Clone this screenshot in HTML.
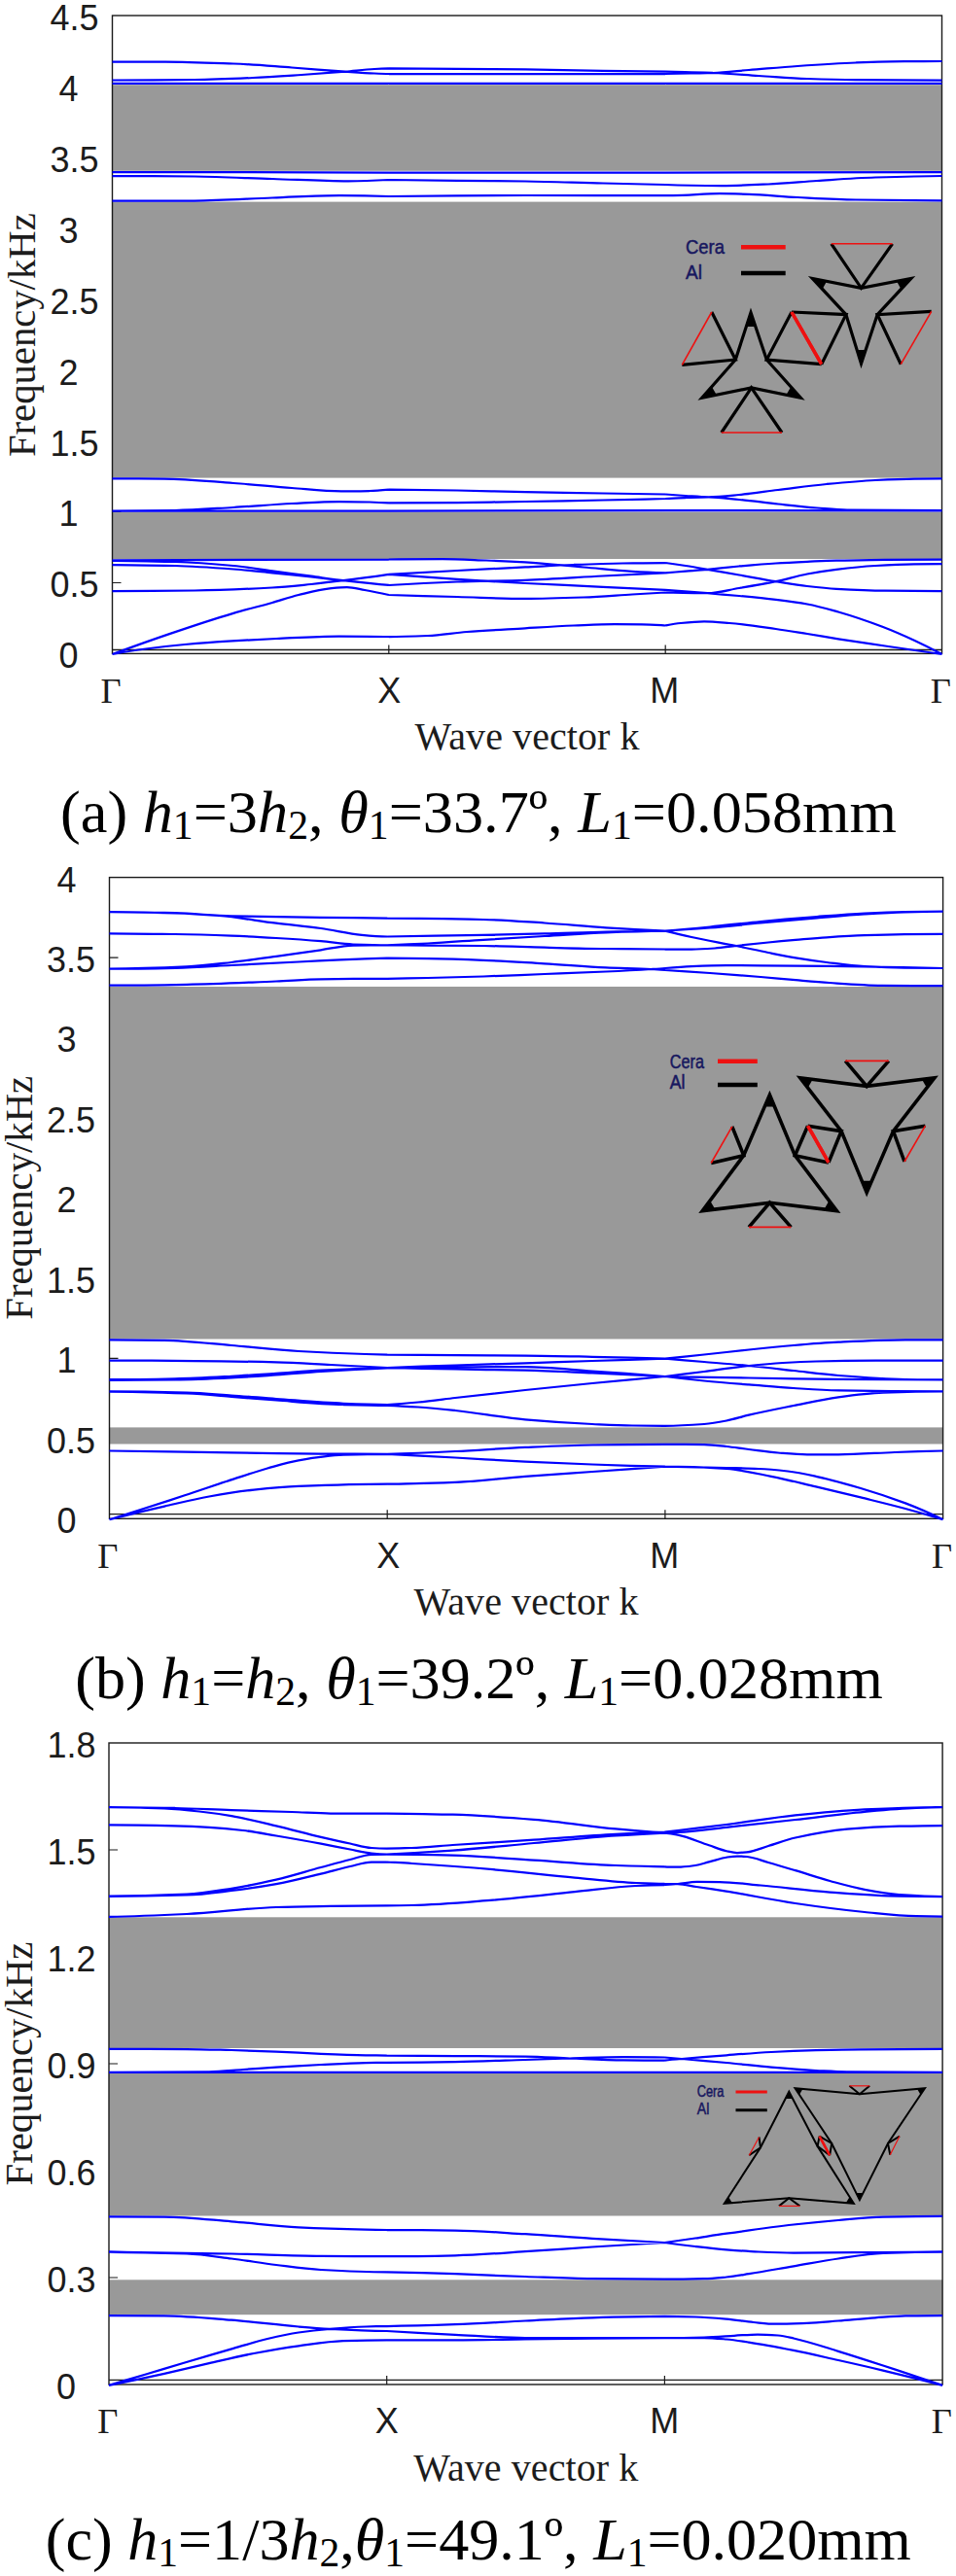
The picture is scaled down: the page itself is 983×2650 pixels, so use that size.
<!DOCTYPE html>
<html lang="en"><head><meta charset="utf-8"><title>Band structures</title>
<style>
html,body{margin:0;padding:0;background:#fff}
svg{display:block}
.ss{font-family:"Liberation Sans",sans-serif}
.sf{font-family:"Liberation Serif",serif}
.b{fill:none;stroke:#0000ff;stroke-width:2.25;stroke-linecap:butt;stroke-linejoin:round}
.k{fill:none;stroke:#000;stroke-linejoin:miter}
.r{fill:none;stroke:#ee1111}
</style></head><body>
<svg width="983" height="2650" viewBox="0 0 983 2650">
<rect width="983" height="2650" fill="#fff"/>
<g>
<path d="M115.5 599.5h9M115.5 526.5h9M115.5 453.6h9M115.5 380.7h9M115.5 307.7h9M115.5 234.8h9M115.5 161.9h9M115.5 88.9h9" stroke="#1a1a1a" stroke-width="1.2" fill="none"/>
<rect x="115.5" y="87.2" width="853" height="88.6" fill="#999"/>
<rect x="115.5" y="207.6" width="853" height="284" fill="#999"/>
<rect x="115.5" y="526.6" width="853" height="48.4" fill="#999"/>
<rect x="115.5" y="16" width="853" height="656.4" fill="none" stroke="#1a1a1a" stroke-width="1.4"/>
<path d="M115.5 668.5H968.5" stroke="#1a1a1a" stroke-width="1.3" fill="none"/>
<path class="b" d="M115.5 63.5C133.7 63.5 151.8 63.5 170 63.5C193.3 63.5 216.7 64.6 240 65.5C260 66.3 280 68.1 300 69.5C318.3 70.8 336.7 72.4 355 73.6C365 74.3 375 75.1 385 75.5C389.9 75.7 394.9 75.9 399.8 76M115.5 82.5C143.7 82.5 171.8 82.3 200 82C220 81.8 240 80.9 260 80C276.7 79.3 293.3 78.1 310 77C325 76 340 74.8 355 73.6C365 72.8 375 71.5 385 71C389.9 70.7 394.9 70.5 399.8 70.4M115.5 85.9L399.8 85.9M115.5 177L399.8 177.5M115.5 181C143.7 181 171.8 181.2 200 181.5C226.7 181.8 253.3 183.2 280 184C306 184.8 332 186.4 358 186.4C371.9 186.4 385.9 185.8 399.8 185M115.5 206.7C143.7 206.7 171.8 206.6 200 206.5C226.7 206.4 253.3 204.5 280 203.5C303 202.7 326 201 349 201C365.9 201 382.9 201.3 399.8 202M115.5 492.3C133.3 492.3 151.2 492.4 169 492.5C192.7 492.7 216.3 495.3 240 497C260 498.4 280 500.5 300 502C317 503.3 334 505.4 351 505.4C360.7 505.4 370.3 505.2 380 505C386.6 504.8 393.2 504.2 399.8 503.6M115.5 525.5C137 525.5 158.5 525.3 180 525C200 524.7 220 523.1 240 522C260 520.9 280 519 300 518C316.2 517.2 332.3 516 348.5 516C359 516 369.5 516.2 380 516.5C386.6 516.7 393.2 517 399.8 517.4M115.5 525.7L399.8 525.5M115.5 576.3L399.8 575.5M115.5 576.8C137 576.8 158.5 577.4 180 578C200 578.6 220 580.2 240 582C253.3 583.2 266.7 585.5 280 587.3C293.3 589.1 306.7 590.9 320 592.7C331 594.2 342 595.9 353 597.2C368.6 599 384.2 600.7 399.8 601.9M115.5 581C137 581 158.5 581.5 180 582C200 582.5 220 584 240 585.5C253.3 586.5 266.7 588 280 589.3C293.3 590.6 306.7 592.1 320 593.5C331 594.7 342 596 353 597.2C368.6 598.9 384.2 600.5 399.8 602M115.5 608C143.7 608 171.8 607.8 200 607.5C226.7 607.2 253.3 606 280 604.5C293.3 603.8 306.7 602.3 320 601C331 599.9 342 598.6 353 597.2C368.6 595.3 384.2 593.1 399.8 590.8M115.5 673C135.6 665.6 155.6 658.4 175.7 651.6C197.1 644.3 218.6 637.1 240 630.8C253.3 626.9 266.7 623.8 280 620C289 617.4 298 614.2 307 612C317.7 609.4 328.3 606.4 339 605.3C344.9 604.7 350.9 604 356.8 604C362.9 604 368.9 605.9 375 607C383.3 608.5 391.5 610.2 399.8 612M115.5 673C127 670.9 138.5 669 150 667.5C163.3 665.7 176.7 664.2 190 663C203.3 661.8 216.7 660.6 230 659.8C248 658.7 266 657.8 284 657C305.5 656 327 654.5 348.5 654.5C365.6 654.5 382.7 654.5 399.8 655M399.8 76C446.5 76 493.3 76 540 76C588.1 76 636.1 76 684.2 76M399.8 70.4C423.2 70.5 446.6 70.7 470 70.8C493.3 70.9 516.7 71.1 540 71.3C566.7 71.6 593.3 72.4 620 72.8C641.4 73.1 662.8 73.4 684.2 73.6M399.8 85.9L684.2 85.9M399.8 177.5L684.2 177.5M399.8 185C423.2 185.3 446.6 185.6 470 185.8C493.3 186 516.7 186.2 540 186.5C566.7 186.9 593.3 187.9 620 188.5C641.4 189 662.8 189.5 684.2 190M399.8 202C446.5 201.5 493.3 201 540 201C588.1 201 636.1 201 684.2 201M399.8 503.6C423.2 503.8 446.6 504.1 470 504.5C493.3 504.9 516.7 505.7 540 506.2C566.7 506.7 593.3 507.1 620 507.5C641.4 507.8 662.8 508.2 684.2 508.5M399.8 517.4C423.2 517.4 446.6 517.2 470 517C493.3 516.8 516.7 516.4 540 516C566.7 515.6 593.3 515.1 620 514.5C641.4 514.1 662.8 513.5 684.2 513M399.8 525.5L684.2 525M399.8 575.5C418.2 575.2 436.6 575.2 455 575.2C470 575.2 485 576 500 576.5C513.3 577 526.7 577.6 540 578.4C560 579.6 580 581.8 600 583.5C616.7 584.9 633.3 586.8 650 587.8C661.4 588.5 672.8 589 684.2 589.4M399.8 590.8C423.2 589.5 446.6 588.2 470 587C493.3 585.8 516.7 584.6 540 583.4C556.7 582.6 573.3 581.6 590 581C606.7 580.4 623.3 579.8 640 579.5C654.7 579.3 669.5 579 684.2 579M399.8 590.8C423.2 592.6 446.6 594.3 470 595.8C493.3 597.3 516.7 598.8 540 600C566.7 601.4 593.3 602.5 620 603.8C641.4 604.8 662.8 605.8 684.2 606.8M399.8 602C423.2 600.5 446.6 599.3 470 598.5C493.3 597.7 516.7 597.6 540 596.8C566.7 595.9 593.3 593.9 620 592.5C641.4 591.4 662.8 590.4 684.2 589.4M399.8 612C423.2 612.7 446.6 613.3 470 614C493.3 614.6 516.7 615.9 540 615.9C560 615.9 580 615.2 600 614.5C616.7 613.9 633.3 612.5 650 611.5C661.4 610.8 672.8 610.2 684.2 609.5M399.8 655C413.2 655 426.6 654.5 440 654C453.3 653.5 466.7 651 480 650C500 648.4 520 647.5 540 646.3C556.7 645.3 573.3 644.2 590 643.5C604 642.9 618 642 632 642C641.3 642 650.7 642.1 660 642.3C668.1 642.4 676.1 643 684.2 643.5M684.2 76C692.8 75.8 701.4 75.7 710 75.5C717.7 75.3 725.3 75.3 733 75C745.3 74.6 757.7 73 770 72C786.7 70.7 803.3 69.1 820 68C840 66.6 860 65.2 880 64.5C896.7 63.9 913.3 63.3 930 63.2C942.8 63.1 955.7 63 968.5 63M684.2 73.6C700.5 73.8 716.7 74.4 733 75C748.7 75.6 764.3 77 780 78C796.7 79 813.3 80.4 830 81C846.7 81.6 863.3 82.1 880 82.2C909.5 82.4 939 82.6 968.5 82.6M684.2 85.9L968.5 85.9M684.2 177.5L968.5 177M684.2 190C703.5 190.8 722.7 191 742 191C758 191 774 190.2 790 189.5C806.7 188.8 823.3 187.1 840 186C860 184.7 880 183.1 900 182.5C922.8 181.8 945.7 181.1 968.5 181M684.2 201C686.8 201 689.4 201 692 201C708 201 724 199.2 740 199.2C750 199.2 760 199.5 770 199.8C786.7 200.3 803.3 202.2 820 203C840 204 860 205.2 880 205.5C909.5 206 939 206.3 968.5 206.3M684.2 508.5C691.1 509.1 698.1 509.6 705 510C712.9 510.5 720.8 511.3 728.7 511.3C739.1 511.3 749.6 510 760 509C773.3 507.8 786.7 505.6 800 504C816.7 502 833.3 499.6 850 498C866.7 496.4 883.3 494.8 900 494C913.3 493.4 926.7 492.8 940 492.6C949.5 492.5 959 492.4 968.5 492.4M684.2 513C691.1 512.6 698.1 512.3 705 512C712.9 511.7 720.8 511.3 728.7 511.3C739.1 511.3 749.6 513 760 514C773.3 515.3 786.7 517.1 800 518.5C813.3 519.9 826.7 521.4 840 522.5C850.3 523.3 860.7 524.5 871 524.6C903.5 524.9 936 525 968.5 525M684.2 525L968.5 525.3M684.2 579C691.1 579.9 698.1 580.9 705 582C712.5 583.2 719.9 584.5 727.4 585.8C738.3 587.7 749.1 589.6 760 591.5C772.6 593.7 785.1 596.2 797.7 598.2C808.5 599.9 819.2 601.8 830 603C840 604.1 850 605.2 860 605.8C876.7 606.7 893.3 607.5 910 607.7C929.5 607.9 949 608 968.5 608M684.2 589.4C691.1 588.8 698.1 588.2 705 587.6C712.5 587 719.9 586.5 727.4 585.8C738.3 584.8 749.1 583.5 760 582.5C772.6 581.4 785.1 580.3 797.7 579.5C808.5 578.8 819.2 578.3 830 577.8C840 577.4 850 576.9 860 576.7C876.7 576.3 893.3 575.9 910 575.8C929.5 575.6 949 575.5 968.5 575.5M684.2 606.8C698.6 607.9 713 609 727.4 610.2C738.3 611.1 749.1 612 760 613C772.6 614.2 785.1 615.4 797.7 616.9C808.5 618.2 819.2 619.5 830 621.5C840.7 623.4 851.3 626.5 862 629.5C877.3 633.9 892.7 639.2 908 645C918.7 649.1 929.3 653.8 940 658.7C949.5 663.1 959 667.9 968.5 673M684.2 609.5C698.6 610.2 713 610.2 727.4 610.2C738.3 610.2 749.1 606.8 760 605C772.6 602.9 785.1 600.8 797.7 598.2C808.5 596 819.2 592.5 830 590.5C840 588.6 850 587 860 585.8C873.3 584.2 886.7 582.8 900 582C913.3 581.2 926.7 580.5 940 580.3C949.5 580.1 959 580 968.5 580M684.2 643.5C689.5 642.5 694.7 641.5 700 641C708 640.2 716 639.4 724 639.4C732.7 639.4 741.3 640.3 750 641C765.9 642.3 781.8 644.8 797.7 647C808.5 648.5 819.2 650.3 830 652C840.7 653.7 851.3 655.6 862 657.3C878 659.8 894 662.1 910 664.5C929.5 667.4 949 670.2 968.5 673"/>
<path d="M399.8 672.4v-9M684.2 672.4v-9" stroke="#1a1a1a" stroke-width="1.2" fill="none"/>
<text class="ss" x="70.5" y="687.3" font-size="36" text-anchor="middle" fill="#1c1c1c">0</text>
<text class="ss" x="76.5" y="614.4" font-size="36" text-anchor="middle" fill="#1c1c1c">0.5</text>
<text class="ss" x="70.5" y="541.4" font-size="36" text-anchor="middle" fill="#1c1c1c">1</text>
<text class="ss" x="76.5" y="468.5" font-size="36" text-anchor="middle" fill="#1c1c1c">1.5</text>
<text class="ss" x="70.5" y="395.6" font-size="36" text-anchor="middle" fill="#1c1c1c">2</text>
<text class="ss" x="76.5" y="322.6" font-size="36" text-anchor="middle" fill="#1c1c1c">2.5</text>
<text class="ss" x="70.5" y="249.7" font-size="36" text-anchor="middle" fill="#1c1c1c">3</text>
<text class="ss" x="76.5" y="176.8" font-size="36" text-anchor="middle" fill="#1c1c1c">3.5</text>
<text class="ss" x="70.5" y="103.8" font-size="36" text-anchor="middle" fill="#1c1c1c">4</text>
<text class="ss" x="76.5" y="30.9" font-size="36" text-anchor="middle" fill="#1c1c1c">4.5</text>
</g>
<g>
<path d="M112.5 1479.8h9M112.5 1397.4h9M112.5 1314.9h9M112.5 1232.5h9M112.5 1150h9M112.5 1067.5h9M112.5 985.1h9" stroke="#1a1a1a" stroke-width="1.2" fill="none"/>
<rect x="112.5" y="1015" width="857.1" height="362.5" fill="#999"/>
<rect x="112.5" y="1468.4" width="857.1" height="17.1" fill="#999"/>
<rect x="112.5" y="902.6" width="857.1" height="659.7" fill="none" stroke="#1a1a1a" stroke-width="1.4"/>
<path d="M112.5 1557.7H969.6" stroke="#1a1a1a" stroke-width="1.3" fill="none"/>
<path class="b" d="M112.5 938.2C135 938.2 157.5 938.7 180 939.2C199.3 939.7 218.7 941.8 238 942.3C258.7 942.8 279.3 943 300 943.3C310 943.5 320 943.7 330 943.8C352.7 944.1 375.5 944.4 398.2 944.6M112.5 938.2C135 938.2 157.5 938.8 180 939.4C195 939.8 210 940.8 225 942C244.7 943.5 264.3 947.3 284 949.7C299.3 951.6 314.7 952.9 330 955C344 956.9 358 960.5 372 961.8C380.7 962.6 389.5 963.3 398.2 963.5M112.5 960.3C135 960.3 157.5 960.7 180 961C199.3 961.3 218.7 961.9 238 962.6C253.3 963.2 268.7 964.1 284 965C299.3 965.9 314.7 966.9 330 968.2C341 969.1 352 971.1 363 971.5C374.7 971.9 386.5 972.3 398.2 972.3M112.5 996.5C139 996.5 165.5 995.6 192 994.4C207.3 993.7 222.7 991.7 238 990C253.3 988.3 268.7 985.9 284 983.8C299.3 981.7 314.7 979.5 330 977.3C341 975.7 352 972.8 363 972.6C374.7 972.4 386.5 972.3 398.2 972.3M112.5 996.7C135 996.7 157.5 996.3 180 995.8C199.3 995.4 218.7 994 238 993C261 991.9 284 990.7 307 989.5C321.3 988.8 335.7 987.9 350 987.3C366.1 986.7 382.1 986.1 398.2 985.7M112.5 1013.7C139 1013.7 165.5 1013.3 192 1012.8C222.7 1012.3 253.3 1010.7 284 1009.5C299.3 1008.9 314.7 1007.6 330 1007.4C352.7 1007 375.5 1006.8 398.2 1006.8M398.2 944.6C431.1 944.6 464.1 945.2 497 946C518 946.5 539 948.2 560 949.5C581 950.8 602 953 623 954.3C643.3 955.6 663.6 956.7 683.9 957.6M398.2 963.5C431.1 963 464.1 962.4 497 961.8C518 961.4 539 960.9 560 960.4C581 959.9 602 958.9 623 958.5C643.3 958.1 663.6 957.7 683.9 957.6M398.2 972.3C412.1 971.8 426.1 971.2 440 970.5C459 969.5 478 968 497 966.8C518 965.5 539 964.2 560 963C581 961.8 602 960.1 623 959.3C643.3 958.5 663.6 957.9 683.9 957.6M398.2 972.3C412.1 972.3 426.1 972.4 440 972.5C459 972.6 478 972.8 497 973C518 973.3 539 974.2 560 974.7C581 975.2 602 975.8 623 976C643.3 976.2 663.6 976.5 683.9 976.5M398.2 985.7C412.1 985.8 426.1 986 440 986.2C459 986.5 478 987.1 497 987.8C518 988.6 539 990.1 560 991.3C581 992.5 602 994.3 623 995.3C638.7 996 654.3 996.2 670 997C674.6 997.2 679.3 997.6 683.9 998M398.2 1006.8C412.1 1006.6 426.1 1006.3 440 1006C459 1005.6 478 1005.1 497 1004.5C518 1003.8 539 1002.8 560 1002C581 1001.2 602 1000.5 623 999.5C638.7 998.8 654.3 998 670 997C674.6 996.7 679.3 996.4 683.9 996M683.9 957.6C699.3 956.4 714.6 955 730 953.5C747.3 951.8 764.7 949.6 782 948C801.3 946.2 820.7 944.5 840 943C856.3 941.7 872.7 940.3 889 939.5C902.7 938.8 916.3 938.2 930 938C943.2 937.8 956.4 937.7 969.6 937.7M683.9 957.6C699.3 956.8 714.6 955.7 730 954.5C747.3 953.1 764.7 951.1 782 949.5C801.3 947.7 820.7 946.1 840 944.5C856.3 943.1 872.7 941.5 889 940.5C902.7 939.7 916.3 938.9 930 938.5C943.2 938.1 956.4 937.8 969.6 937.7M683.9 957.6C692.9 959.9 702 962.1 711 964C726.3 967.3 741.7 969.9 757 973C768 975.2 779 977.8 790 980C799.3 981.9 808.7 983.9 818 985.4C828.7 987.2 839.3 988.7 850 990C863 991.6 876 993.5 889 994.2C902.7 994.9 916.3 995.5 930 995.7C943.2 995.9 956.4 996 969.6 996M683.9 976.5C692.9 976.5 702 976.5 711 976.5C719 976.5 727 976 735 975.5C742.3 975 749.7 973.8 757 973C768 971.8 779 970.6 790 969.5C799.3 968.6 808.7 967.7 818 966.9C828.7 966 839.3 965 850 964.3C863 963.5 876 962.7 889 962.2C902.7 961.7 916.3 961.3 930 961.1C943.2 960.9 956.4 960.8 969.6 960.8M683.9 996C692.9 995.3 702 994.6 711 994.2C722.9 993.7 734.8 993.2 746.7 993.2C770.5 993.2 794.2 993.3 818 993.5C841.7 993.7 865.3 994.1 889 994.5C915.9 994.9 942.7 995.4 969.6 996M683.9 998C699.3 998.9 714.6 999.9 730 1001C747.3 1002.2 764.7 1003.6 782 1005C794 1006 806 1007.2 818 1008.2C829.7 1009.2 841.3 1010.3 853 1011C871 1012.2 889 1013.6 907 1013.8C927.9 1014 948.7 1014.2 969.6 1014.2M112.5 1378.4C131.3 1378.4 150.2 1378.6 169 1378.8C192 1379.1 215 1382.1 238 1384C261 1385.9 284 1388.7 307 1390C330 1391.3 353 1392.3 376 1393C383.4 1393.2 390.8 1393.4 398.2 1393.6M112.5 1399.6C141.7 1399.6 170.8 1399.8 200 1400C228 1400.2 256 1400.7 284 1401.4C302.7 1401.9 321.3 1403.1 340 1404C359.4 1404.9 378.8 1405.9 398.2 1407M112.5 1419.2C135 1419.2 157.5 1418.8 180 1418.3C199.3 1417.9 218.7 1416.8 238 1415.8C253.3 1415 268.7 1413.8 284 1412.8C299.3 1411.8 314.7 1410.5 330 1409.7C352.7 1408.5 375.5 1407.5 398.2 1407M112.5 1419.8C135 1419.8 157.5 1419.6 180 1419.3C199.3 1419.1 218.7 1418.2 238 1417.3C253.3 1416.6 268.7 1415.5 284 1414.5C299.3 1413.5 314.7 1412 330 1411C352.7 1409.5 375.5 1408.2 398.2 1407.3M112.5 1431.3C139 1431.3 165.5 1431.9 192 1432.7C207.3 1433.1 222.7 1434.5 238 1435.5C253.3 1436.5 268.7 1437.9 284 1439C307 1440.7 330 1442.9 353 1443.8C368.1 1444.4 383.1 1444.9 398.2 1445M112.5 1431.5C139 1431.5 165.5 1432.5 192 1433.5C207.3 1434.1 222.7 1435.6 238 1436.8C253.3 1438 268.7 1439.4 284 1440.5C307 1442.2 330 1444.4 353 1445C368.1 1445.4 383.1 1445.8 398.2 1445.8M112.5 1492.5C154.3 1493.2 196.2 1493.8 238 1494.4C268.7 1494.8 299.3 1495.3 330 1495.5C352.7 1495.6 375.5 1495.8 398.2 1495.8M112.5 1563.2C125 1559.3 137.5 1555.3 150 1551.3C163.3 1547 176.7 1542.7 190 1538.3C206.7 1532.8 223.3 1527 240 1521.6C251.7 1517.8 263.3 1513.8 275 1510.5C285.7 1507.5 296.3 1504.1 307 1502.3C322.3 1499.7 337.7 1497.2 353 1496.7C368.1 1496.2 383.1 1495.8 398.2 1495.8M112.5 1563.2C131.3 1558.4 150.2 1553.9 169 1549.6C184.3 1546.1 199.7 1542.2 215 1539.5C230.3 1536.8 245.7 1534.2 261 1532.6C276.3 1531 291.7 1529.5 307 1528.9C337.4 1527.7 367.8 1526.6 398.2 1526.6M398.2 1393.6C421.5 1393.7 444.7 1393.9 468 1394C492 1394.2 516 1394.3 540 1394.5C563 1394.7 586 1395.3 609 1395.8C634 1396.3 658.9 1397 683.9 1397.7M398.2 1407C421.5 1407.6 444.7 1408.1 468 1408.5C492 1409 516 1409.1 540 1409.7C563 1410.2 586 1411.5 609 1412.5C634 1413.6 658.9 1414.8 683.9 1416M398.2 1407C421.5 1406.1 444.7 1405.3 468 1404.5C492 1403.7 516 1403.1 540 1402.3C563 1401.6 586 1400.7 609 1400C634 1399.2 658.9 1398.4 683.9 1397.7M398.2 1407.3C421.5 1407 444.7 1406.7 468 1406.5C492 1406.3 516 1406 540 1406C563 1406 586 1408.9 609 1410.5C634 1412.2 658.9 1414.1 683.9 1416M398.2 1445C408.8 1444.4 419.4 1443.5 430 1442.5C442.7 1441.3 455.3 1439.5 468 1438C492 1435.2 516 1432.5 540 1430C563 1427.6 586 1425.2 609 1423C634 1420.6 658.9 1418.2 683.9 1416M398.2 1445.8C408.8 1446.2 419.4 1446.8 430 1447.5C442.7 1448.4 455.3 1449.7 468 1451C492 1453.5 516 1458.2 540 1460.3C563 1462.3 586 1463.9 609 1465C622.7 1465.6 636.3 1466.3 650 1466.5C661.3 1466.7 672.6 1466.8 683.9 1466.8M398.2 1495.8C421.5 1495.1 444.7 1494.1 468 1493C492 1491.9 516 1489.9 540 1488.9C563 1487.9 586 1486.8 609 1486.5C634 1486.2 658.9 1485.9 683.9 1485.9M398.2 1495.8C421.5 1497 444.7 1498.2 468 1499.5C492 1500.8 516 1502.4 540 1503.6C563 1504.7 586 1505.7 609 1506.5C634 1507.4 658.9 1508.1 683.9 1508.7M398.2 1526.6C421.5 1526.6 444.7 1525.7 468 1524.8C492 1523.9 516 1520.6 540 1518.8C563 1517.1 586 1515.6 609 1514C634 1512.2 658.9 1510.5 683.9 1508.7M683.9 1397.7C697.3 1398.8 710.6 1399.9 724 1401C739.3 1402.3 754.7 1403.5 770 1405C785.3 1406.5 800.7 1408.3 816 1410C831.3 1411.7 846.7 1413.8 862 1415C885 1416.8 908 1418.6 931 1419C943.9 1419.2 956.7 1419.4 969.6 1419.4M683.9 1397.7C697.3 1396.3 710.6 1394.9 724 1393.5C739.3 1391.9 754.7 1390.1 770 1388.5C785.3 1386.9 800.7 1385.3 816 1384C831.3 1382.7 846.7 1381.4 862 1380.7C885 1379.6 908 1378.4 931 1378.4C943.9 1378.4 956.7 1378.4 969.6 1378.4M683.9 1416C697.3 1414.4 710.6 1412.7 724 1411C739.3 1409 754.7 1406.6 770 1405C781.7 1403.8 793.3 1402.7 805 1402C816.3 1401.3 827.7 1400.7 839 1400.5C859.3 1400.1 879.7 1399.8 900 1399.7C923.2 1399.6 946.4 1399.6 969.6 1399.6M683.9 1416C712.6 1416.5 741.3 1417.1 770 1417.5C800.7 1418 831.3 1418.6 862 1418.8C897.9 1419.1 933.7 1419.4 969.6 1419.4M683.9 1416C697.3 1417.7 710.6 1419.2 724 1420.5C739.3 1422 754.7 1423.2 770 1424.4C785.3 1425.6 800.7 1427 816 1428C831.3 1429 846.7 1430.2 862 1430.4C897.9 1431 933.7 1431.3 969.6 1431.3M683.9 1466.8C697.3 1466.8 710.6 1466 724 1465C731.7 1464.4 739.3 1463 747 1461.5C754.7 1460 762.3 1457.5 770 1455.7C785.3 1452.1 800.7 1449.1 816 1446C831.3 1442.9 846.7 1439.3 862 1437.3C877.3 1435.3 892.7 1433.3 908 1432.7C928.5 1431.9 949.1 1431.3 969.6 1431.3M683.9 1485.9C697.3 1485.9 710.6 1486 724 1486.2C731.7 1486.3 739.3 1487.2 747 1488C754.7 1488.8 762.3 1490.1 770 1491C780 1492.2 790 1493.7 800 1494.5C810 1495.3 820 1496.3 830 1496.3C840.7 1496.3 851.3 1496.3 862 1496.3C881.3 1496.3 900.7 1494.7 920 1494C936.5 1493.4 953.1 1492.9 969.6 1492.5M683.9 1508.7C704.9 1509 726 1509.5 747 1510C758 1510.3 769 1510.5 780 1511C790 1511.4 800 1512.4 810 1513.5C819.7 1514.6 829.3 1516.7 839 1518.8C854.3 1522.1 869.7 1526.5 885 1531C900.3 1535.5 915.7 1540.6 931 1546.4C943.9 1551.3 956.7 1557 969.6 1563.2M683.9 1508.7C704.9 1508.7 726 1509.7 747 1511C762.3 1512 777.7 1515.8 793 1518.8C808.3 1521.8 823.7 1525.8 839 1529.4C854.3 1533 869.7 1536.6 885 1540.4C900.3 1544.2 915.7 1547.9 931 1552C943.9 1555.5 956.7 1559.2 969.6 1563.2"/>
<path d="M398.2 1562.3v-9M683.9 1562.3v-9" stroke="#1a1a1a" stroke-width="1.2" fill="none"/>
<text class="ss" x="68.5" y="1577.2" font-size="36" text-anchor="middle" fill="#1c1c1c">0</text>
<text class="ss" x="73" y="1494.7" font-size="36" text-anchor="middle" fill="#1c1c1c">0.5</text>
<text class="ss" x="68.5" y="1412.3" font-size="36" text-anchor="middle" fill="#1c1c1c">1</text>
<text class="ss" x="73" y="1329.8" font-size="36" text-anchor="middle" fill="#1c1c1c">1.5</text>
<text class="ss" x="68.5" y="1247.3" font-size="36" text-anchor="middle" fill="#1c1c1c">2</text>
<text class="ss" x="73" y="1164.9" font-size="36" text-anchor="middle" fill="#1c1c1c">2.5</text>
<text class="ss" x="68.5" y="1082.4" font-size="36" text-anchor="middle" fill="#1c1c1c">3</text>
<text class="ss" x="73" y="1000" font-size="36" text-anchor="middle" fill="#1c1c1c">3.5</text>
<text class="ss" x="68.5" y="917.5" font-size="36" text-anchor="middle" fill="#1c1c1c">4</text>
</g>
<g>
<path d="M112 2343h9M112 2233h9M112 2123h9M112 2013h9M112 1903h9" stroke="#1a1a1a" stroke-width="1.2" fill="none"/>
<rect x="112" y="1972.3" width="857.1" height="134.7" fill="#999"/>
<rect x="112" y="2132.7" width="857.1" height="146.8" fill="#999"/>
<rect x="112" y="2345.3" width="857.1" height="35.9" fill="#999"/>
<rect x="112" y="1793" width="857.1" height="660" fill="none" stroke="#1a1a1a" stroke-width="1.4"/>
<path d="M112 2448.4H969.1" stroke="#1a1a1a" stroke-width="1.3" fill="none"/>
<path class="b" d="M112 1859C134.7 1859 157.3 1859.5 180 1860C199.3 1860.4 218.7 1861.6 238 1862.2C258.7 1862.9 279.3 1863.3 300 1864C313.3 1864.4 326.7 1865.5 340 1865.5C359.2 1865.5 378.5 1865.5 397.7 1865.5M112 1859C131 1859 150 1859.7 169 1860.5C181 1861 193 1862.2 205 1863.5C216 1864.7 227 1866.3 238 1868.2C253.3 1870.8 268.7 1874.7 284 1878.3C299.3 1881.9 314.7 1886.2 330 1889.8C340 1892.1 350 1894.4 360 1896.5C367.3 1898.1 374.7 1900.6 382 1901C387.2 1901.3 392.5 1901.5 397.7 1901.5M112 1877.4C134.7 1877.4 157.3 1877.8 180 1878.3C191.7 1878.6 203.3 1879.1 215 1879.8C226.7 1880.5 238.3 1881.6 250 1883C261.3 1884.3 272.7 1886.6 284 1888.5C299.3 1891.1 314.7 1893.8 330 1896.7C340 1898.6 350 1900.6 360 1902.5C367.3 1903.9 374.7 1905.8 382 1906.5C387.2 1907 392.5 1907.4 397.7 1907.5M112 1950.6C138.7 1950.6 165.3 1949.8 192 1948.7C207.3 1948 222.7 1945.2 238 1942.8C253.3 1940.4 268.7 1937.1 284 1933.6C299.3 1930.1 314.7 1925.1 330 1921C340 1918.3 350 1915.5 360 1913C367.3 1911.2 374.7 1908 382 1907.8C387.2 1907.6 392.5 1907.5 397.7 1907.5M112 1950.8C138.7 1950.8 165.3 1950.3 192 1949.5C207.3 1949 222.7 1946.8 238 1945C253.3 1943.2 268.7 1941 284 1938.2C299.3 1935.4 314.7 1931.3 330 1927.6C340 1925.2 350 1922.2 360 1920C367.3 1918.4 374.7 1915.9 382 1915.7C387.2 1915.6 392.5 1915.5 397.7 1915.5M112 1971.8C138.7 1971.4 165.3 1970.3 192 1969C222.7 1967.5 253.3 1962.9 284 1962C302.7 1961.4 321.3 1961.2 340 1960.9C359.2 1960.6 378.5 1960.4 397.7 1960.3M397.7 1865.5C420.3 1865.5 442.9 1866.1 465.5 1866.7C493.3 1867.4 521.2 1869.6 549 1871.8C577 1874 605 1878.7 633 1881.4C649.8 1883 666.6 1884.4 683.4 1885.6M397.7 1901.5C406.1 1901.5 414.6 1901.2 423 1901C437.2 1900.6 451.3 1899 465.5 1898C493.3 1896.1 521.2 1894.6 549 1892.7C577 1890.8 605 1888.3 633 1886.8C649.8 1885.9 666.6 1885.1 683.4 1884.5M397.7 1907.5C420.3 1907.5 442.9 1908 465.5 1908.6C493.3 1909.3 521.2 1911.9 549 1913.6C577 1915.3 605 1918 633 1919C649.8 1919.6 666.6 1920.1 683.4 1920.3M397.7 1907.5C420.3 1906.5 442.9 1905.2 465.5 1903.6C493.3 1901.7 521.2 1898.5 549 1896C577 1893.5 605 1890.4 633 1888.5C649.8 1887.3 666.6 1886.4 683.4 1885.6M397.7 1915.5C406.4 1916 415 1916.4 423.7 1917C451.5 1918.8 479.2 1920.8 507 1923.2C535 1925.6 563 1929 591 1931.6C612 1933.5 633 1936.1 654 1937C663.8 1937.4 673.6 1937.8 683.4 1937.9M397.7 1960.3C406.4 1960.3 415 1960.2 423.7 1960C451.5 1959.5 479.2 1956.8 507 1954.6C535 1952.4 563 1949 591 1946.2C612 1944.1 633 1941 654 1940C663.8 1939.5 673.6 1939.1 683.4 1939M683.4 1884.5C687.9 1884 692.5 1883.5 697 1883C713.6 1881.1 730.1 1879.1 746.7 1877C770.4 1874 794.1 1869.8 817.8 1867.3C841.5 1864.8 865.3 1862.5 889 1861.3C906 1860.5 923 1859.8 940 1859.5C949.7 1859.4 959.4 1859.2 969.1 1859.2M683.4 1885.6C687.9 1885.5 692.5 1885.3 697 1885C713.6 1884 730.1 1881.6 746.7 1879.8C770.4 1877.3 794.1 1874.7 817.8 1872C841.5 1869.3 865.3 1865.9 889 1863.8C906.7 1862.2 924.3 1860.5 942 1859.9C951 1859.6 960.1 1859.3 969.1 1859.2M683.4 1885.6C687.9 1886 692.5 1886.7 697 1887.6C707.7 1889.7 718.3 1894.8 729 1898.3C735.3 1900.4 741.7 1903.2 748 1904.5C751.3 1905.2 754.7 1906 758 1906C761.3 1906 764.7 1905.7 768 1905.4C775.3 1904.7 782.7 1901.2 790 1899C799.3 1896.2 808.5 1892.6 817.8 1890.5C835.5 1886.5 853.3 1883.1 871 1881.6C888.8 1880.1 906.7 1879.1 924.5 1878.7C939.4 1878.3 954.2 1878 969.1 1878M683.4 1920.3C687.9 1920.7 692.5 1920.7 697 1920.7C703 1920.7 709 1919.8 715 1919C719.7 1918.3 724.3 1916.6 729 1915.4C735.3 1913.8 741.7 1911.4 748 1910.5C751.3 1910 754.7 1909.5 758 1909.5C761.3 1909.5 764.7 1909.7 768 1910C775.3 1910.6 782.7 1913.9 790 1916C799.3 1918.6 808.5 1921.4 817.8 1924.2C829.7 1927.7 841.5 1931.8 853.4 1935C865.3 1938.2 877.1 1941.6 889 1943.8C900.8 1946 912.7 1948.2 924.5 1949C939.4 1950 954.2 1951 969.1 1951M683.4 1937.9C687.9 1937.9 692.5 1938 697 1938.2C703.3 1938.4 709.7 1940.1 716 1941C726.2 1942.5 736.5 1944 746.7 1945.6C770.4 1949.4 794.1 1954.5 817.8 1958C841.5 1961.5 865.3 1964.7 889 1967C906.7 1968.7 924.3 1970.9 942 1971.2C951 1971.4 960.1 1971.5 969.1 1971.5M683.4 1939C687.9 1938.7 692.5 1938.4 697 1938C703.5 1937.4 710.1 1935.8 716.6 1935.8C724.4 1935.8 732.2 1935.9 740 1936C754 1936.2 768 1938.2 782 1939.5C805.8 1941.6 829.6 1944.9 853.4 1946.6C877.1 1948.3 900.8 1950.3 924.5 1950.6C939.4 1950.8 954.2 1951 969.1 1951M112 2107.9C138.7 2107.9 165.3 2107.9 192 2108C207.3 2108 222.7 2108.6 238 2109C253.3 2109.4 268.7 2110 284 2110.6C299.3 2111.2 314.7 2112.2 330 2112.8C345.3 2113.4 360.7 2114 376 2114.3C383.2 2114.4 390.5 2114.5 397.7 2114.6M397.7 2114.6C421.1 2114.7 444.6 2114.8 468 2115C492 2115.2 516 2115.3 540 2115.6C555.3 2115.8 570.7 2116.9 586 2117.5C604.3 2118.2 622.7 2119.3 641 2119.4C655.1 2119.5 669.3 2119.6 683.4 2119.6M683.4 2119.6C689.3 2119 695.1 2118.5 701 2118C716.3 2116.7 731.7 2115.5 747 2114.3C762.3 2113.1 777.7 2111.8 793 2111C808.3 2110.2 823.7 2109.6 839 2109.2C854.3 2108.8 869.7 2108.4 885 2108.3C913 2108.1 941.1 2107.9 969.1 2107.9M112 2131.8C146.3 2131.8 180.7 2131.7 215 2131.3C226.7 2131.2 238.3 2129.8 250 2129C261.3 2128.2 272.7 2127.4 284 2126.7C299.3 2125.7 314.7 2124.8 330 2124C345.3 2123.2 360.7 2122.2 376 2122C383.2 2121.9 390.5 2121.8 397.7 2121.8M397.7 2121.8C421.1 2121.7 444.6 2121.4 468 2121C492 2120.6 516 2119.7 540 2119C555.3 2118.5 570.7 2117.9 586 2117.5C604.3 2117 622.7 2116.1 641 2116.1C655.1 2116.1 669.3 2116.2 683.4 2116.5M683.4 2116.5C689.3 2117 695.1 2117.5 701 2118C716.3 2119.3 731.7 2120.6 747 2122C762.3 2123.4 777.7 2125.4 793 2126.7C808.3 2128 823.7 2129.2 839 2130C849.7 2130.5 860.3 2131.2 871 2131.3C903.7 2131.6 936.4 2131.8 969.1 2131.8M112 2131.9L969.1 2131.9M112 2280.3C131 2280.3 150 2280.4 169 2280.6C192 2280.8 215 2283.5 238 2285.3C261 2287.1 284 2290.2 307 2291.3C330 2292.4 353 2293.1 376 2293.6C383.2 2293.8 390.5 2293.9 397.7 2294M112 2316.6C154 2317 196 2317.7 238 2318.5C268.7 2319.1 299.3 2320.5 330 2320.8C352.6 2321 375.1 2321.2 397.7 2321.2M112 2316.8C138.7 2316.8 165.3 2317.5 192 2318.5C207.3 2319.1 222.7 2321.6 238 2323.5C253.3 2325.4 268.7 2328.1 284 2330C299.3 2331.9 314.7 2334.2 330 2335C352.6 2336.2 375.1 2337.3 397.7 2337.3M112 2382C131 2382 150 2382.1 169 2382.3C192 2382.5 215 2384.8 238 2386.6C261 2388.4 284 2391.6 307 2393.5C317.7 2394.4 328.3 2395.3 339 2395.8C358.6 2396.8 378.1 2397.7 397.7 2398M112 2453.8C124.7 2450 137.3 2446.3 150 2442.5C163.3 2438.5 176.7 2434.4 190 2430.5C206.7 2425.6 223.3 2420.7 240 2415.9C251.7 2412.6 263.3 2408.8 275 2406C285.7 2403.5 296.3 2401.1 307 2399.5C317.7 2397.9 328.3 2396.7 339 2395.8C351.3 2394.8 363.7 2393.9 376 2393.5C383.2 2393.3 390.5 2393.1 397.7 2393M112 2453.8C131 2450 150 2446 169 2441.8C184.3 2438.4 199.7 2434.7 215 2431.2C230.3 2427.7 245.7 2423.9 261 2421C276.3 2418.1 291.7 2415.3 307 2413.3C322.3 2411.3 337.7 2408.7 353 2408.2C367.9 2407.7 382.8 2407.3 397.7 2407.3M397.7 2294C421.1 2294 444.6 2294.2 468 2294.5C492 2294.8 516 2296.8 540 2298.2C563 2299.5 586 2301.4 609 2302.8C633.8 2304.3 658.6 2305.7 683.4 2307M397.7 2321.2C421.1 2321.2 444.6 2320.8 468 2320.3C492 2319.8 516 2317.7 540 2316.2C563 2314.8 586 2313 609 2311.5C633.8 2309.9 658.6 2308.4 683.4 2307M397.7 2337.3C421.1 2337.8 444.6 2338.5 468 2339.2C492 2340 516 2341.2 540 2342C563 2342.8 586 2343.9 609 2344.2C633.8 2344.5 658.6 2344.7 683.4 2344.7M397.7 2398C421.1 2399.4 444.6 2400.7 468 2401.8C492 2403 516 2404.9 540 2405C563 2405.1 586 2405.2 609 2405.2C633.8 2405.2 658.6 2405.1 683.4 2405M397.7 2393C421.1 2392.7 444.6 2392 468 2391.2C492 2390.4 516 2388.7 540 2387.5C563 2386.4 586 2384.9 609 2384.3C633.8 2383.6 658.6 2383 683.4 2382.9M397.7 2407.3C421.1 2407.3 444.6 2407.3 468 2407.3C492 2407.3 516 2406.7 540 2406.4C563 2406.1 586 2405.7 609 2405.5C633.8 2405.3 658.6 2405.1 683.4 2405M683.4 2307C693.9 2308.5 704.5 2309.8 715 2311C725.7 2312.2 736.3 2313.4 747 2314.3C758 2315.2 769 2316.1 780 2316.5C792 2317 804 2317.5 816 2317.5C844 2317.5 872 2317.2 900 2317C923 2316.9 946.1 2316.7 969.1 2316.6M683.4 2307C693.9 2305.5 704.5 2304 715 2302.5C725.7 2300.9 736.3 2299.2 747 2297.7C770 2294.4 793 2291.1 816 2288.5C831.3 2286.8 846.7 2285.3 862 2284C877.3 2282.7 892.7 2281.1 908 2280.7C928.4 2280.2 948.7 2279.8 969.1 2279.8M683.4 2344.7C696.9 2344.7 710.5 2344.5 724 2344.2C731.7 2344 739.3 2343.2 747 2342.5C754.7 2341.8 762.3 2340.4 770 2339.2C785.3 2336.8 800.7 2333.9 816 2331.3C831.3 2328.7 846.7 2325.7 862 2323.5C877.3 2321.3 892.7 2318.6 908 2318C928.4 2317.2 948.7 2316.6 969.1 2316.6M683.4 2382.9C693.9 2382.9 704.5 2383.2 715 2383.5C725.7 2383.8 736.3 2384.7 747 2385.6C756.3 2386.4 765.7 2388.1 775 2389C782.6 2389.7 790.1 2390.7 797.7 2390.7C808.5 2390.7 819.2 2390.2 830 2389.8C840.7 2389.4 851.3 2388.3 862 2387.5C874.7 2386.5 887.3 2385.2 900 2384.3C910.3 2383.6 920.7 2382.6 931 2382.4C943.7 2382.2 956.4 2382 969.1 2382M683.4 2405C696.9 2405 710.5 2404.8 724 2404.5C734.3 2404.3 744.7 2403.4 755 2402.8C763 2402.4 771 2401.5 779 2401.5C786 2401.5 793 2402 800 2402.5C805.3 2402.9 810.7 2404.3 816 2405.5C831.3 2408.9 846.7 2414.1 862 2418.8C877.3 2423.5 892.7 2428.5 908 2433.5C928.4 2440.1 948.7 2446.9 969.1 2453.8M683.4 2405C696.9 2405 710.5 2405 724 2405C731.7 2405 739.3 2405.8 747 2406.5C754.7 2407.2 762.3 2408.4 770 2409.6C785.3 2411.9 800.7 2414.9 816 2417.9C831.3 2420.9 846.7 2424.6 862 2428C877.3 2431.4 892.7 2434.9 908 2438.6C928.4 2443.5 948.7 2448.5 969.1 2453.8"/>
<path d="M397.7 2453v-9M683.4 2453v-9" stroke="#1a1a1a" stroke-width="1.2" fill="none"/>
<text class="ss" x="68" y="2467.9" font-size="36" text-anchor="middle" fill="#1c1c1c">0</text>
<text class="ss" x="73.5" y="2357.9" font-size="36" text-anchor="middle" fill="#1c1c1c">0.3</text>
<text class="ss" x="73.5" y="2247.9" font-size="36" text-anchor="middle" fill="#1c1c1c">0.6</text>
<text class="ss" x="73.5" y="2137.9" font-size="36" text-anchor="middle" fill="#1c1c1c">0.9</text>
<text class="ss" x="73.5" y="2027.9" font-size="36" text-anchor="middle" fill="#1c1c1c">1.2</text>
<text class="ss" x="73.5" y="1917.9" font-size="36" text-anchor="middle" fill="#1c1c1c">1.5</text>
<text class="ss" x="73.5" y="1807.9" font-size="36" text-anchor="middle" fill="#1c1c1c">1.8</text>
</g>
<text class="sf" transform="translate(36.2 344.7) rotate(-90)" font-size="40.7" text-anchor="middle" fill="#1c1c1c">Frequency/kHz</text>
<text class="sf" transform="translate(32.5 1232.3) rotate(-90)" font-size="40.7" text-anchor="middle" fill="#1c1c1c">Frequency/kHz</text>
<text class="sf" transform="translate(32.5 2123) rotate(-90)" font-size="40.7" text-anchor="middle" fill="#1c1c1c">Frequency/kHz</text>
<text class="sf" x="114" y="722.7" font-size="36.5" text-anchor="middle" fill="#1c1c1c">Γ</text>
<text class="ss" x="400.2" y="722.7" font-size="36" text-anchor="middle" fill="#1c1c1c">X</text>
<text class="ss" x="683.2" y="722.7" font-size="36" text-anchor="middle" fill="#1c1c1c">M</text>
<text class="sf" x="967.4" y="722.7" font-size="36.5" text-anchor="middle" fill="#1c1c1c">Γ</text>
<text class="sf" x="426.6" y="771.4" font-size="40" textLength="231" lengthAdjust="spacing" fill="#1c1c1c">Wave vector k</text>
<text class="sf" x="110.8" y="1612.7" font-size="36.5" text-anchor="middle" fill="#1c1c1c">Γ</text>
<text class="ss" x="399.2" y="1612.7" font-size="36" text-anchor="middle" fill="#1c1c1c">X</text>
<text class="ss" x="683.2" y="1612.7" font-size="36" text-anchor="middle" fill="#1c1c1c">M</text>
<text class="sf" x="968.6" y="1612.7" font-size="36.5" text-anchor="middle" fill="#1c1c1c">Γ</text>
<text class="sf" x="425.6" y="1661.4" font-size="40" textLength="231" lengthAdjust="spacing" fill="#1c1c1c">Wave vector k</text>
<text class="sf" x="110.7" y="2503.3" font-size="36.5" text-anchor="middle" fill="#1c1c1c">Γ</text>
<text class="ss" x="397.8" y="2503.3" font-size="36" text-anchor="middle" fill="#1c1c1c">X</text>
<text class="ss" x="683.3" y="2503.3" font-size="36" text-anchor="middle" fill="#1c1c1c">M</text>
<text class="sf" x="968.2" y="2503.3" font-size="36.5" text-anchor="middle" fill="#1c1c1c">Γ</text>
<text class="sf" x="425.3" y="2551.5" font-size="40" textLength="231" lengthAdjust="spacing" fill="#1c1c1c">Wave vector k</text>
<text class="sf" x="62" y="855.7" font-size="62" fill="#000" textLength="860" lengthAdjust="spacingAndGlyphs">(a) <tspan font-style="italic">h</tspan><tspan font-size="41.5" dy="7.5">1</tspan><tspan dy="-7.5">=3</tspan><tspan font-style="italic">h</tspan><tspan font-size="41.5" dy="7.5">2</tspan><tspan dy="-7.5">, </tspan><tspan font-style="italic">θ</tspan><tspan font-size="41.5" dy="7.5">1</tspan><tspan dy="-7.5">=33.7º, </tspan><tspan font-style="italic">L</tspan><tspan font-size="41.5" dy="7.5">1</tspan><tspan dy="-7.5">=0.058mm</tspan></text>
<text class="sf" x="77.2" y="1746.7" font-size="62" fill="#000" textLength="830.6" lengthAdjust="spacingAndGlyphs">(b) <tspan font-style="italic">h</tspan><tspan font-size="41.5" dy="7.5">1</tspan><tspan dy="-7.5">=</tspan><tspan font-style="italic">h</tspan><tspan font-size="41.5" dy="7.5">2</tspan><tspan dy="-7.5">, </tspan><tspan font-style="italic">θ</tspan><tspan font-size="41.5" dy="7.5">1</tspan><tspan dy="-7.5">=39.2º, </tspan><tspan font-style="italic">L</tspan><tspan font-size="41.5" dy="7.5">1</tspan><tspan dy="-7.5">=0.028mm</tspan></text>
<text class="sf" x="46.8" y="2632.6" font-size="62" fill="#000" textLength="890" lengthAdjust="spacingAndGlyphs">(c) <tspan font-style="italic">h</tspan><tspan font-size="41.5" dy="7.5">1</tspan><tspan dy="-7.5">=1/3</tspan><tspan font-style="italic">h</tspan><tspan font-size="41.5" dy="7.5">2</tspan><tspan dy="-7.5">,</tspan><tspan font-style="italic">θ</tspan><tspan font-size="41.5" dy="7.5">1</tspan><tspan dy="-7.5">=49.1º, </tspan><tspan font-style="italic">L</tspan><tspan font-size="41.5" dy="7.5">1</tspan><tspan dy="-7.5">=0.020mm</tspan></text>
<g>
<text class="ss" x="705" y="261" font-size="21" fill="#17175f" stroke="#17175f" stroke-width="0.5" textLength="40" lengthAdjust="spacingAndGlyphs">Cera</text>
<text class="ss" x="705" y="286.5" font-size="21" fill="#17175f" stroke="#17175f" stroke-width="0.5" textLength="17" lengthAdjust="spacingAndGlyphs">Al</text>
<path d="M762 254.2H807.7" stroke="#ee1111" stroke-width="4.6"/>
<path d="M762 281H807.7" stroke="#000" stroke-width="4.6"/>
<polygon class="k" points="772,321.5 788.3,370 823.3,409.3 772.6,398.9 721.8,409.3 756.3,370" stroke-width="3.2" stroke-miterlimit="12"/>
<polygon points="772,321.5 767.4,335.9 776.8,335.9" fill="#000"/>
<polygon points="823.3,409.3 813.2,398 808.4,406.3" fill="#000"/>
<polygon points="721.8,409.3 736.8,406.3 731.9,397.8" fill="#000"/>
<polygon class="k" points="885.5,374.1 869.9,323.6 835.4,286.4 885.5,296.3 936.8,286.4 902.2,323.6" stroke-width="3.2" stroke-miterlimit="12"/>
<polygon points="885.5,374.1 890.2,359.9 881.1,359.9" fill="#000"/>
<polygon points="835.4,286.4 845.6,297.4 850.1,289.3" fill="#000"/>
<polygon points="936.8,286.4 922,289.2 926.5,297.4" fill="#000"/>
<polyline class="k" points="731.8,321 756.3,370 701.3,375.3" stroke-width="3.2"/>
<path class="r" d="M731.8 321L701.3 375.3" stroke-width="1.6"/>
<polyline class="k" points="814,321 788.3,370 844.7,374.7" stroke-width="3.2"/>
<path class="r" d="M814 321L844.7 374.7" stroke-width="3.4"/>
<polyline class="k" points="741.8,445 772.6,398.9 804,445" stroke-width="3.2"/>
<path class="r" d="M741.8 445L804 445" stroke-width="1.6"/>
<polyline class="k" points="854.8,250.8 885.5,296.3 917.6,250.8" stroke-width="3.2"/>
<path class="r" d="M854.8 250.8L917.6 250.8" stroke-width="1.6"/>
<polyline class="k" points="814,321 869.9,323.6 844.7,374.7" stroke-width="3.2"/>
<path class="r" d="M814 321L844.7 374.7" stroke-width="3.4"/>
<polyline class="k" points="957.7,320.4 902.2,323.6 926.3,374.7" stroke-width="3.2"/>
<path class="r" d="M957.7 320.4L926.3 374.7" stroke-width="1.6"/>
</g>
<g>
<text class="ss" x="688.8" y="1099.2" font-size="19.5" fill="#17175f" stroke="#17175f" stroke-width="0.5" textLength="35.2" lengthAdjust="spacingAndGlyphs">Cera</text>
<text class="ss" x="688.8" y="1119.6" font-size="19.5" fill="#17175f" stroke="#17175f" stroke-width="0.5" textLength="15.7" lengthAdjust="spacingAndGlyphs">Al</text>
<path d="M738 1091.8H778.8" stroke="#ee1111" stroke-width="4.4"/>
<path d="M738 1116H778.8" stroke="#000" stroke-width="4.4"/>
<polygon class="k" points="791.4,1126.3 817.4,1188.7 860.5,1245.6 791.4,1237.3 722.2,1245.6 764.7,1188.7" stroke-width="3.6" stroke-miterlimit="12"/>
<polygon points="791.4,1126.3 786.2,1138.4 796.4,1138.4" fill="#000"/>
<polygon points="860.5,1245.6 852.6,1235.1 847.5,1244" fill="#000"/>
<polygon points="722.2,1245.6 735.3,1244 730.1,1235" fill="#000"/>
<polygon class="k" points="891.2,1226.9 865.1,1163.6 822.7,1108.8 891.2,1117.4 960.9,1108.8 918.5,1163.6" stroke-width="3.6" stroke-miterlimit="12"/>
<polygon points="891.2,1226.9 896.4,1214.8 886.2,1214.8" fill="#000"/>
<polygon points="822.7,1108.8 830.7,1119.1 835.6,1110.4" fill="#000"/>
<polygon points="960.9,1108.8 948,1110.4 952.9,1119.1" fill="#000"/>
<polyline class="k" points="752.8,1158.8 764.7,1188.7 731.2,1196.5" stroke-width="3.6"/>
<path class="r" d="M752.8 1158.8L731.2 1196.5" stroke-width="1.6"/>
<polyline class="k" points="830.6,1158.2 817.4,1188.7 852,1195.9" stroke-width="3.6"/>
<path class="r" d="M830.6 1158.2L852 1195.9" stroke-width="3.4"/>
<polyline class="k" points="770,1262.4 791.4,1237.3 813.4,1262.4" stroke-width="3.6"/>
<path class="r" d="M770 1262.4L813.4 1262.4" stroke-width="1.6"/>
<polyline class="k" points="869.2,1091.4 891.2,1117.4 913.8,1091.4" stroke-width="3.6"/>
<path class="r" d="M869.2 1091.4L913.8 1091.4" stroke-width="1.6"/>
<polyline class="k" points="830.6,1158.2 865.1,1163.6 852,1195.9" stroke-width="3.6"/>
<path class="r" d="M830.6 1158.2L852 1195.9" stroke-width="3.4"/>
<polyline class="k" points="951.4,1158.2 918.5,1163.6 930,1195" stroke-width="3.6"/>
<path class="r" d="M951.4 1158.2L930 1195" stroke-width="1.6"/>
</g>
<g>
<text class="ss" x="716.7" y="2157.2" font-size="16.5" fill="#17175f" stroke="#17175f" stroke-width="0.5" textLength="27.8" lengthAdjust="spacingAndGlyphs">Cera</text>
<text class="ss" x="716.7" y="2175" font-size="16.5" fill="#17175f" stroke="#17175f" stroke-width="0.5" textLength="12.6" lengthAdjust="spacingAndGlyphs">Al</text>
<path d="M756.5 2152H788.8" stroke="#ee1111" stroke-width="2.9"/>
<path d="M756.5 2170.8H788.8" stroke="#000" stroke-width="2.9"/>
<polygon class="k" points="811.3,2151.7 840.6,2207.9 877.9,2266.8 811.3,2261.2 744.8,2266.8 782,2209.3" stroke-width="2" stroke-miterlimit="12"/>
<polygon points="811.3,2151.7 807.6,2159 815.1,2159" fill="#000"/>
<polygon points="877.9,2266.8 873.6,2260 869.9,2266.1" fill="#000"/>
<polygon points="744.8,2266.8 752.7,2266.1 749.1,2260.1" fill="#000"/>
<polygon class="k" points="883.9,2263.1 855.2,2205 817.5,2148.3 883.9,2154.3 951,2148.3 913,2205" stroke-width="2" stroke-miterlimit="12"/>
<polygon points="883.9,2263.1 887.5,2255.9 880.3,2255.9" fill="#000"/>
<polygon points="817.5,2148.3 821.9,2154.9 825.4,2149" fill="#000"/>
<polygon points="951,2148.3 943.1,2149 946.6,2154.9" fill="#000"/>
<polyline class="k" points="780.5,2198.5 782,2209.3 770.3,2217.2" stroke-width="2"/>
<path class="r" d="M780.5 2198.5L770.3 2217.2" stroke-width="1.2"/>
<polyline class="k" points="842.6,2197.6 840.6,2207.9 853.2,2217.2" stroke-width="2"/>
<path class="r" d="M842.6 2197.6L853.2 2217.2" stroke-width="2.4"/>
<polyline class="k" points="801,2269.4 811.3,2261.2 822.4,2269.4" stroke-width="2"/>
<path class="r" d="M801 2269.4L822.4 2269.4" stroke-width="1.2"/>
<polyline class="k" points="873.4,2145.8 883.9,2154.3 894.2,2145.8" stroke-width="2"/>
<path class="r" d="M873.4 2145.8L894.2 2145.8" stroke-width="1.2"/>
<polyline class="k" points="842.6,2197.6 855.2,2205 853.2,2217.2" stroke-width="2"/>
<path class="r" d="M842.6 2197.6L853.2 2217.2" stroke-width="2.4"/>
<polyline class="k" points="925,2197.6 913,2205 915.3,2216.7" stroke-width="2"/>
<path class="r" d="M925 2197.6L915.3 2216.7" stroke-width="1.2"/>
</g>
</svg>
</body></html>
